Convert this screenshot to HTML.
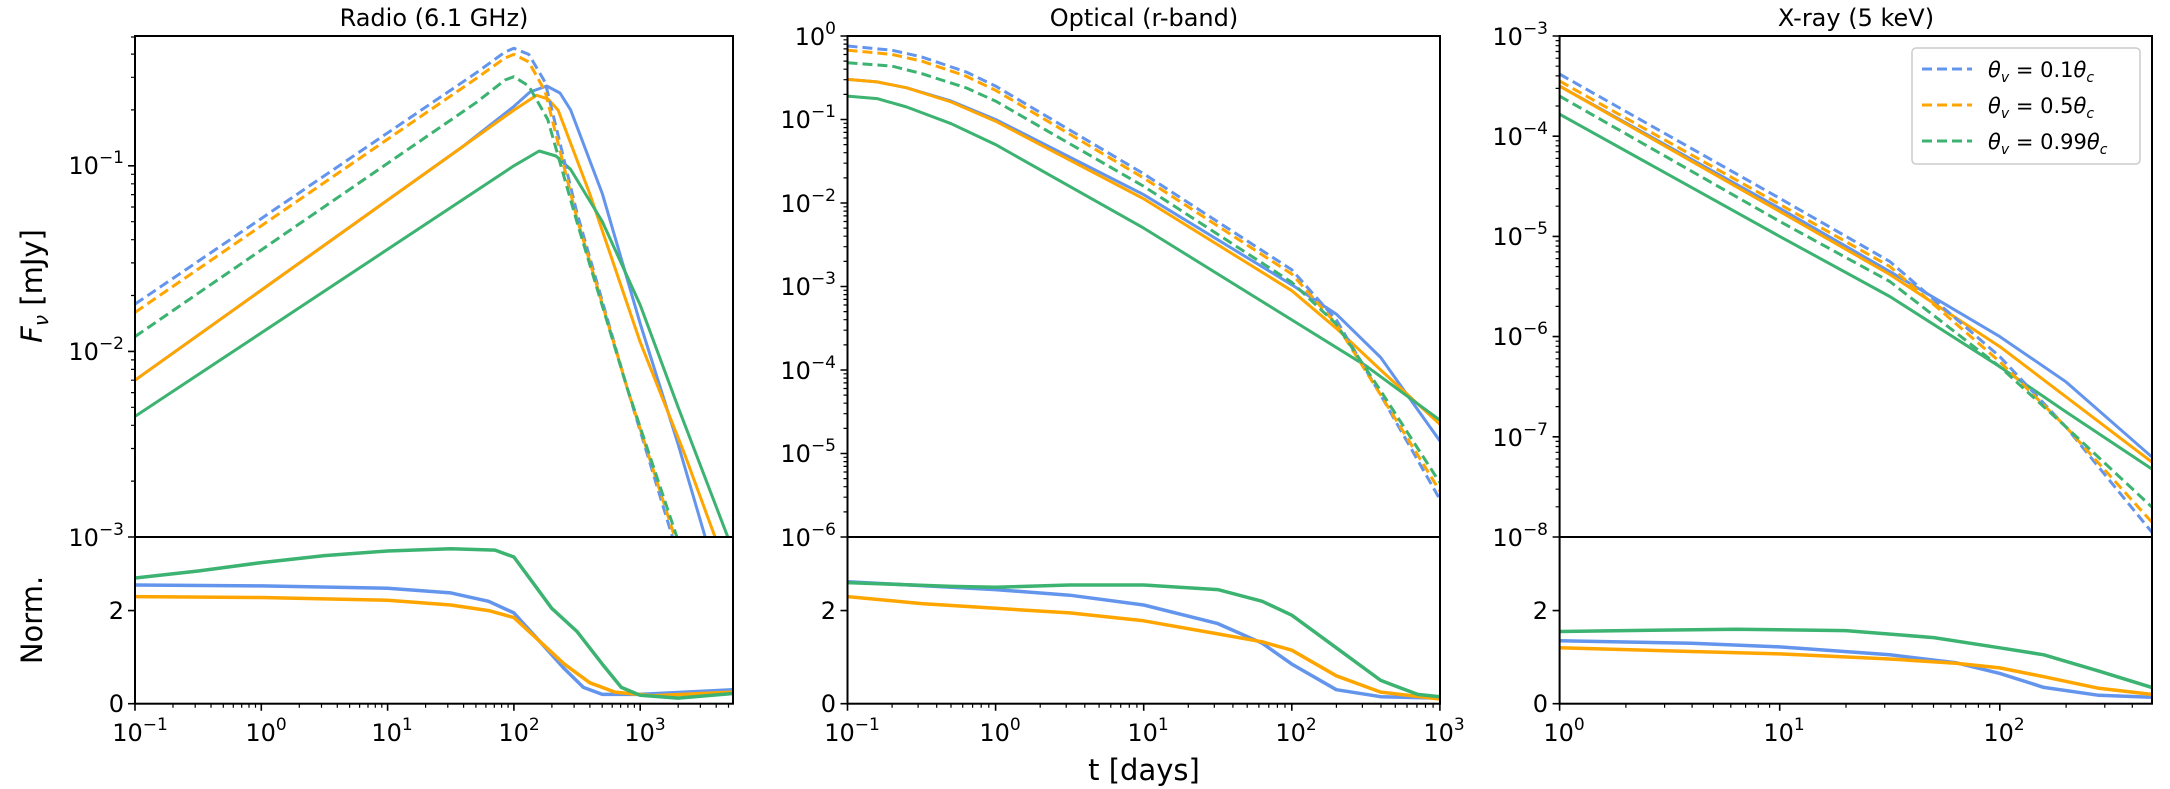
<!DOCTYPE html>
<html><head><meta charset="utf-8"><style>
html,body{margin:0;padding:0;background:#fff;}
svg{display:block;font-family:"DejaVu Sans","Liberation Sans",sans-serif;}
</style></head><body>
<svg width="2170" height="789" viewBox="0 0 2170 789" xmlns="http://www.w3.org/2000/svg">
<defs>
<clipPath id="c0"><rect x="135" y="36" width="598" height="501"/></clipPath>
<clipPath id="c1"><rect x="847.5" y="36" width="592.5" height="501"/></clipPath>
<clipPath id="c2"><rect x="1559.6" y="36" width="592.4" height="501"/></clipPath>
<clipPath id="n0"><rect x="135" y="537" width="598" height="167"/></clipPath>
<clipPath id="n1"><rect x="847.5" y="537" width="592.5" height="167"/></clipPath>
<clipPath id="n2"><rect x="1559.6" y="537" width="592.4" height="167"/></clipPath>
</defs>
<g fill="none" stroke-width="3" stroke-linejoin="round">
<g clip-path="url(#c0)">
<path stroke="#6495ED" d="M135,380.2 L463.4,146.1 L513.9,106.4 L530,92 L546.7,86.0 L560,93 L570.7,110.1 L602.3,193.6 L640.2,323.6 L678.1,444.2 L716,574"/>
<path stroke="#FFA500" d="M135,380.2 L463.4,146.1 L513.9,110.1 L536.6,95.3 L548,99 L558.1,110.1 L589.7,193.6 L640.2,342.1 L684.4,453.5 L728.6,574"/>
<path stroke="#3CB371" d="M135,416.4 L513.9,165.8 L539.2,151 L556,156 L570.7,169.5 L602.3,221.5 L640.2,305 L678.1,407.1 L734.9,555.6"/>
<g stroke-dasharray="10,5">
<path stroke="#6495ED" d="M135,304.1 L476,73 L505,52 L513.9,48.3 L528.8,54.4 L545.2,82.3 L576.8,212.2 L627.3,388.5 L678.1,555.6"/>
<path stroke="#FFA500" d="M135,312.4 L476,78.6 L505,58 L513.9,54.4 L528.8,61.9 L545.2,91.6 L576.8,217.8 L627.3,388.5 L680.6,555.6"/>
<path stroke="#3CB371" d="M135,336.6 L476,102.7 L505,80 L513.9,76.7 L528.8,86 L547.7,119.4 L576.8,221.5 L627.3,388.5 L683.1,555.6"/>
</g></g>
<g clip-path="url(#c1)">
<path stroke="#6495ED" d="M847.5,79.4 L877.1,81.9 L906.7,87.8 L951.2,101.1 L995.6,119.5 L1143.7,194.7 L1291.8,284.8 L1336.3,314.1 L1380.7,357.5 L1439.9,441"/>
<path stroke="#FFA500" d="M847.5,79.4 L877.1,81.9 L906.7,87.8 L951.2,102 L995.6,121.2 L1143.7,198.8 L1291.8,290.7 L1336.3,328.3 L1380.7,370 L1439.9,424.3"/>
<path stroke="#3CB371" d="M847.5,96.1 L877.1,98.6 L906.7,107 L951.2,123.7 L995.6,144.6 L1143.7,228.1 L1291.8,319.9 L1365.9,365.8 L1439.9,420.1"/>
<g stroke-dasharray="10,5">
<path stroke="#6495ED" d="M847.5,46 L891.9,50.2 L921.6,56.9 L966,71.9 L995.6,86.1 L1143.7,173.8 L1291.8,269.8 L1336.3,319.9 L1380.7,395 L1439.9,499.4"/>
<path stroke="#FFA500" d="M847.5,50.2 L891.9,54.4 L921.6,61.1 L966,76.1 L995.6,90.3 L1143.7,178 L1291.8,274 L1336.3,324.1 L1380.7,395 L1439.9,491.1"/>
<path stroke="#3CB371" d="M847.5,62.7 L891.9,66.1 L921.6,73.6 L966,87.8 L995.6,101.1 L1143.7,186.3 L1291.8,282.3 L1336.3,324.1 L1380.7,390.9 L1439.9,482.7"/>
</g></g>
<g clip-path="url(#c2)">
<path stroke="#6495ED" d="M1559.6,86.1 L1779.7,208.3 L1889.8,271.5 L1999.8,336.6 L2065.8,381.7 L2151.7,456.8"/>
<path stroke="#FFA500" d="M1559.6,86.1 L1779.7,211.4 L1889.8,274.5 L1999.8,346.6 L2065.8,396.7 L2151.7,461.9"/>
<path stroke="#3CB371" d="M1559.6,114.2 L1779.7,236.4 L1889.8,296.5 L1999.8,366.7 L2065.8,411.8 L2151.7,468.9"/>
<g stroke-dasharray="10,5">
<path stroke="#6495ED" d="M1559.6,74.1 L1779.7,198.3 L1889.8,261.5 L1999.8,356.6 L2065.8,426.8 L2151.7,532"/>
<path stroke="#FFA500" d="M1559.6,81.1 L1779.7,204.3 L1889.8,266.5 L1999.8,361.7 L2065.8,426.8 L2151.7,522"/>
<path stroke="#3CB371" d="M1559.6,96.1 L1779.7,221.4 L1889.8,281.5 L1999.8,366.7 L2065.8,426.8 L2151.7,506.9"/>
</g></g>
<g stroke-width="3.5">
<g clip-path="url(#n0)">
<path stroke="#6495ED" d="M135,585 L261.3,585.9 L387.6,588.2 L450.8,592.9 L488.6,601.3 L513.9,612.9 L539.2,640.8 L564.4,668.8 L583.4,687.4 L602.3,694.4 L640.2,694.4 L733,689.7"/>
<path stroke="#FFA500" d="M135,596.6 L261.3,597.5 L387.6,600.3 L450.8,605 L488.6,610.6 L513.9,617.6 L539.2,640.8 L564.4,664.1 L589.7,682.7 L615,692.1 L652.8,695.8 L733,692.1"/>
<path stroke="#3CB371" d="M135,578 L198.2,571 L261.3,562.6 L324.5,555.6 L387.6,551 L450.8,548.7 L495,550.1 L513.9,557 L532.8,582.6 L551.7,608.3 L577,631.5 L602.3,664.1 L621.3,687.4 L640.2,695.3 L678.1,698.1 L733,693.5"/>
</g>
<g clip-path="url(#n1)">
<path stroke="#6495ED" d="M847.5,581.7 L995.6,589.6 L1069.7,595.2 L1143.7,605 L1217.8,623.6 L1262.2,643.2 L1291.8,664.1 L1336.3,689.7 L1380.7,696.7 L1439.9,698.1"/>
<path stroke="#FFA500" d="M847.5,596.6 L921.6,603.6 L995.6,608.3 L1069.7,612.9 L1143.7,620.8 L1217.8,633.9 L1262.2,641.8 L1291.8,650.2 L1336.3,675.8 L1380.7,692.1 L1439.9,699"/>
<path stroke="#3CB371" d="M847.5,582.6 L951.2,586.4 L995.6,587.3 L1069.7,585 L1143.7,585 L1217.8,589.6 L1262.2,601.3 L1291.8,615.2 L1336.3,647.8 L1380.7,680.4 L1417.7,694.4 L1439.9,696.7"/>
</g>
<g clip-path="url(#n2)">
<path stroke="#6495ED" d="M1559.6,640.8 L1691.7,643.2 L1779.7,646.9 L1889.8,654.8 L1955.8,662.7 L1999.8,673.4 L2043.8,687.4 L2098.8,695.3 L2151.7,697.2"/>
<path stroke="#FFA500" d="M1559.6,647.8 L1779.7,653.9 L1889.8,659 L1955.8,663.2 L1999.8,667.9 L2043.8,676.7 L2098.8,688.3 L2151.7,694.4"/>
<path stroke="#3CB371" d="M1559.6,631.5 L1735.7,629.2 L1845.7,630.6 L1933.8,637.6 L1999.8,647.8 L2043.8,654.8 L2098.8,671.1 L2151.7,687.4"/>
</g>
</g>
</g>
<g fill="none" stroke="#000" stroke-width="2">
<rect x="135" y="36" width="598" height="667.7"/>
<rect x="847.5" y="36" width="592.5" height="667.7"/>
<rect x="1559.6" y="36" width="592.4" height="667.7"/>
<path d="M135,537H733M847.5,537H1440M1559.6,537H2152"/>
</g>
<g fill="none" stroke="#000" stroke-width="1.6">
<path d="M135,537h-7M135,351.4h-7M135,165.8h-7M135,610.6h-7M135,703.7h-7
M847.5,537h-7M847.5,453.5h-7M847.5,370h-7M847.5,286.5h-7M847.5,203h-7M847.5,119.5h-7M847.5,36h-7M847.5,610.6h-7M847.5,703.7h-7
M1559.6,537h-7M1559.6,436.8h-7M1559.6,336.6h-7M1559.6,236.4h-7M1559.6,136.2h-7M1559.6,36h-7M1559.6,610.6h-7M1559.6,703.7h-7
M135,703.7v7M261.3,703.7v7M387.6,703.7v7M513.9,703.7v7M640.2,703.7v7
M847.5,703.7v7M995.6,703.7v7M1143.7,703.7v7M1291.8,703.7v7M1439.9,703.7v7
M1559.6,703.7v7M1779.7,703.7v7M1999.8,703.7v7"/>
</g>
<g fill="none" stroke="#000" stroke-width="1.2">
<path d="M135,481.1h-4M135,448.5h-4M135,425.3h-4M135,407.3h-4M135,392.6h-4M135,380.2h-4M135,369.4h-4M135,359.9h-4
M135,295.5h-4M135,262.9h-4M135,239.7h-4M135,221.7h-4M135,207h-4M135,194.6h-4M135,183.8h-4M135,174.3h-4
M135,109.9h-4M135,77.3h-4M135,54.1h-4M135,37h-4"/>
<path d="M847.5,511.9h-4M847.5,497.2h-4M847.5,486.7h-4M847.5,478.6h-4M847.5,472h-4M847.5,466.4h-4M847.5,461.6h-4M847.5,457.3h-4
M847.5,428.4h-4M847.5,413.7h-4M847.5,403.2h-4M847.5,395.1h-4M847.5,388.5h-4M847.5,382.9h-4M847.5,378.1h-4M847.5,373.8h-4
M847.5,344.9h-4M847.5,330.2h-4M847.5,319.7h-4M847.5,311.6h-4M847.5,305h-4M847.5,299.4h-4M847.5,294.6h-4M847.5,290.3h-4
M847.5,261.4h-4M847.5,246.7h-4M847.5,236.2h-4M847.5,228.1h-4M847.5,221.5h-4M847.5,215.9h-4M847.5,211.1h-4M847.5,206.8h-4
M847.5,177.9h-4M847.5,163.2h-4M847.5,152.7h-4M847.5,144.6h-4M847.5,138h-4M847.5,132.4h-4M847.5,127.6h-4M847.5,123.3h-4
M847.5,94.4h-4M847.5,79.7h-4M847.5,69.2h-4M847.5,61.1h-4M847.5,54.5h-4M847.5,48.9h-4M847.5,44.1h-4M847.5,39.8h-4"/>
<path d="M1559.6,506.8h-4M1559.6,489.2h-4M1559.6,476.7h-4M1559.6,467h-4M1559.6,459h-4M1559.6,452.3h-4M1559.6,446.5h-4M1559.6,441.4h-4
M1559.6,406.6h-4M1559.6,389h-4M1559.6,376.5h-4M1559.6,366.8h-4M1559.6,358.8h-4M1559.6,352.1h-4M1559.6,346.3h-4M1559.6,341.2h-4
M1559.6,306.4h-4M1559.6,288.8h-4M1559.6,276.3h-4M1559.6,266.6h-4M1559.6,258.6h-4M1559.6,251.9h-4M1559.6,246.1h-4M1559.6,241h-4
M1559.6,206.2h-4M1559.6,188.6h-4M1559.6,176.1h-4M1559.6,166.4h-4M1559.6,158.4h-4M1559.6,151.7h-4M1559.6,145.9h-4M1559.6,140.8h-4
M1559.6,106h-4M1559.6,88.4h-4M1559.6,75.9h-4M1559.6,66.2h-4M1559.6,58.2h-4M1559.6,51.5h-4M1559.6,45.7h-4M1559.6,40.6h-4"/>
<path d="M173,703.7v4M195.2,703.7v4M211,703.7v4M223.3,703.7v4M233.3,703.7v4M241.7,703.7v4M249,703.7v4M255.5,703.7v4
M299.3,703.7v4M321.5,703.7v4M337.3,703.7v4M349.6,703.7v4M359.6,703.7v4M368,703.7v4M375.3,703.7v4M381.8,703.7v4
M425.6,703.7v4M447.8,703.7v4M463.6,703.7v4M475.9,703.7v4M485.9,703.7v4M494.3,703.7v4M501.6,703.7v4M508.1,703.7v4
M551.9,703.7v4M574.1,703.7v4M589.9,703.7v4M602.2,703.7v4M612.2,703.7v4M620.6,703.7v4M627.9,703.7v4M634.4,703.7v4
M678.2,703.7v4M700.4,703.7v4M716.2,703.7v4M728.5,703.7v4
M892.1,703.7v4M918.1,703.7v4M936.7,703.7v4M951,703.7v4M962.7,703.7v4M972.6,703.7v4M981.2,703.7v4M988.8,703.7v4
M1040.2,703.7v4M1066.2,703.7v4M1084.8,703.7v4M1099.1,703.7v4M1110.8,703.7v4M1120.7,703.7v4M1129.3,703.7v4M1136.9,703.7v4
M1188.3,703.7v4M1214.3,703.7v4M1232.9,703.7v4M1247.2,703.7v4M1258.9,703.7v4M1268.8,703.7v4M1277.4,703.7v4M1285,703.7v4
M1336.4,703.7v4M1362.4,703.7v4M1381,703.7v4M1395.3,703.7v4M1407,703.7v4M1416.9,703.7v4M1425.5,703.7v4M1433.1,703.7v4
M1625.9,703.7v4M1664.6,703.7v4M1692.1,703.7v4M1713.4,703.7v4M1730.8,703.7v4M1745.6,703.7v4M1758.3,703.7v4M1769.6,703.7v4
M1846,703.7v4M1884.7,703.7v4M1912.2,703.7v4M1933.5,703.7v4M1950.9,703.7v4M1965.7,703.7v4M1978.4,703.7v4M1989.7,703.7v4
M2066.1,703.7v4M2104.8,703.7v4M2132.3,703.7v4"/>
</g>
<g font-size="24" fill="#000">
<text x="434" y="26" text-anchor="middle">Radio (6.1 GHz)</text>
<text x="1144" y="26" text-anchor="middle">Optical (r-band)</text>
<text x="1856" y="26" text-anchor="middle">X-ray (5 keV)</text>
</g>
<g font-size="24" fill="#000" text-anchor="end">
<text x="124" y="174">10<tspan dy="-11" font-size="17">−1</tspan></text>
<text x="124" y="360">10<tspan dy="-11" font-size="17">−2</tspan></text>
<text x="124" y="546">10<tspan dy="-11" font-size="17">−3</tspan></text>
<text x="836" y="45">10<tspan dy="-11" font-size="17">0</tspan></text>
<text x="836" y="128">10<tspan dy="-11" font-size="17">−1</tspan></text>
<text x="836" y="212">10<tspan dy="-11" font-size="17">−2</tspan></text>
<text x="836" y="295">10<tspan dy="-11" font-size="17">−3</tspan></text>
<text x="836" y="379">10<tspan dy="-11" font-size="17">−4</tspan></text>
<text x="836" y="462">10<tspan dy="-11" font-size="17">−5</tspan></text>
<text x="836" y="546">10<tspan dy="-11" font-size="17">−6</tspan></text>
<text x="1548" y="45">10<tspan dy="-11" font-size="17">−3</tspan></text>
<text x="1548" y="145">10<tspan dy="-11" font-size="17">−4</tspan></text>
<text x="1548" y="245">10<tspan dy="-11" font-size="17">−5</tspan></text>
<text x="1548" y="345">10<tspan dy="-11" font-size="17">−6</tspan></text>
<text x="1548" y="446">10<tspan dy="-11" font-size="17">−7</tspan></text>
<text x="1548" y="546">10<tspan dy="-11" font-size="17">−8</tspan></text>
<text x="124" y="619">2</text><text x="124" y="712">0</text>
<text x="836" y="619">2</text><text x="836" y="712">0</text>
<text x="1548" y="619">2</text><text x="1548" y="712">0</text>
</g>
<g font-size="24" fill="#000" text-anchor="middle">
<text x="140" y="741">10<tspan dy="-11" font-size="17">−1</tspan></text>
<text x="266" y="741">10<tspan dy="-11" font-size="17">0</tspan></text>
<text x="392" y="741">10<tspan dy="-11" font-size="17">1</tspan></text>
<text x="519" y="741">10<tspan dy="-11" font-size="17">2</tspan></text>
<text x="645" y="741">10<tspan dy="-11" font-size="17">3</tspan></text>
<text x="852" y="741">10<tspan dy="-11" font-size="17">−1</tspan></text>
<text x="1000" y="741">10<tspan dy="-11" font-size="17">0</tspan></text>
<text x="1148" y="741">10<tspan dy="-11" font-size="17">1</tspan></text>
<text x="1296" y="741">10<tspan dy="-11" font-size="17">2</tspan></text>
<text x="1444" y="741">10<tspan dy="-11" font-size="17">3</tspan></text>
<text x="1564" y="741">10<tspan dy="-11" font-size="17">0</tspan></text>
<text x="1784" y="741">10<tspan dy="-11" font-size="17">1</tspan></text>
<text x="2004" y="741">10<tspan dy="-11" font-size="17">2</tspan></text>
<text x="1144" y="780" font-size="29">t [days]</text>
</g>
<text transform="translate(42,286) rotate(-90)" font-size="29" text-anchor="middle"><tspan font-style="italic">F</tspan><tspan font-style="italic" font-size="20" dy="6">ν</tspan><tspan dy="-6"> [mJy]</tspan></text>
<text transform="translate(42,620) rotate(-90)" font-size="29" text-anchor="middle">Norm.</text>
<rect x="1912" y="48" width="228" height="116" rx="4" fill="#fff" fill-opacity="0.85" stroke="#ccc" stroke-width="1.5"/>
<g stroke-width="3" stroke-dasharray="10,5">
<line x1="1922" y1="69" x2="1972" y2="69" stroke="#6495ED"/>
<line x1="1922" y1="105" x2="1972" y2="105" stroke="#FFA500"/>
<line x1="1922" y1="141" x2="1972" y2="141" stroke="#3CB371"/>
</g>
<g font-size="21" fill="#000">
<text x="1988" y="77"><tspan font-style="italic">θ</tspan><tspan font-style="italic" font-size="14" dy="5">v</tspan><tspan dy="-5"> = 0.1</tspan><tspan font-style="italic">θ</tspan><tspan font-style="italic" font-size="14" dy="5">c</tspan></text>
<text x="1988" y="113"><tspan font-style="italic">θ</tspan><tspan font-style="italic" font-size="14" dy="5">v</tspan><tspan dy="-5"> = 0.5</tspan><tspan font-style="italic">θ</tspan><tspan font-style="italic" font-size="14" dy="5">c</tspan></text>
<text x="1988" y="149"><tspan font-style="italic">θ</tspan><tspan font-style="italic" font-size="14" dy="5">v</tspan><tspan dy="-5"> = 0.99</tspan><tspan font-style="italic">θ</tspan><tspan font-style="italic" font-size="14" dy="5">c</tspan></text>
</g>
</svg>
</body></html>
